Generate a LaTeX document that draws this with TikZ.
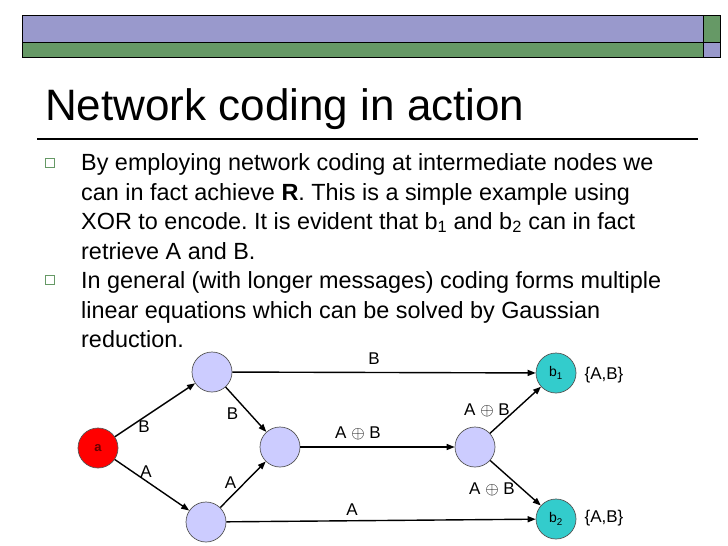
\documentclass[tikz,border=0pt]{standalone}
\usepackage{fontspec}
\setmainfont{Liberation Sans}
\usetikzlibrary{arrows.meta}
\frenchspacing
\definecolor{barpurple}{HTML}{9999CC}
\definecolor{bargreen}{HTML}{669966}
\definecolor{lav}{HTML}{CCCCFF}
\definecolor{tealnode}{HTML}{33CCCC}
\definecolor{nodeedge}{HTML}{555555}
\tikzset{
  bar/.style={draw=black,line width=0.9pt},
  bodyline/.style={anchor=base west,inner sep=0pt,font=\fontsize{23.4}{28}\selectfont},
  bulletsq/.style={draw=bargreen,line width=0.8pt,minimum size=9pt,inner sep=0pt},
  relay/.style={circle,draw=nodeedge,fill=lav,minimum size=40pt,inner sep=0pt,line width=0.7pt},
  sink/.style={circle,draw=nodeedge,fill=tealnode,minimum size=40pt,inner sep=0pt,line width=0.7pt,font=\fontsize{14}{16}\selectfont},
  source/.style={circle,draw=nodeedge,fill=red,minimum size=40pt,inner sep=0pt,line width=0.7pt,font=\bfseries\fontsize{13}{15}\selectfont,text=red!40!black},
  link/.style={line width=1.4pt,-{Triangle[length=8pt,width=6pt]}},
  elabel/.style={inner sep=0pt,font=\fontsize{17}{20}\selectfont},
}
\begin{document}
\begin{tikzpicture}[x=1pt,y=-1pt]
\useasboundingbox (0,0) rectangle (728,546);
% top bars
\draw[bar,fill=barpurple] (22,15) rectangle (703,42);
\draw[bar,fill=bargreen] (703,15) rectangle (720,42);
\draw[bar,fill=bargreen] (22,42) rectangle (703,57);
\draw[bar,fill=barpurple] (703,42) rectangle (720,57);
% title
\node[anchor=base west,inner sep=0pt,font=\fontsize{44}{48}\selectfont] (title) at (45,120) {Network coding in action};
\coordinate (ruleL) at (37,139);
\coordinate (ruleR) at (698,139);
\draw[line width=1.2pt] (ruleL) -- (ruleR);
% bullets
\node[bulletsq] (sq1) at (49.5,162.8) {};
\node[bulletsq] (sq2) at (49.5,280.3) {};
\node[bodyline] (l1) at (81,170.7) {By employing network coding at intermediate nodes we};
\node[bodyline] (l2) at (81,200) {can in fact achieve \textbf{R}. This is a simple example using};
\node[bodyline] (l3) at (81,229) {XOR to encode. It is evident that b\textsubscript{1} and b\textsubscript{2} can in fact};
\node[bodyline] (l4) at (81,259) {retrieve A and B.};
\node[bodyline] (l5) at (81,288) {In general (with longer messages) coding forms multiple};
\node[bodyline] (l6) at (81,318) {linear equations which can be solved by Gaussian};
\node[bodyline] (l7) at (81,347) {reduction.};
% graph nodes
\node[source] (a) at (98,448) {a};
\node[relay] (n1) at (212,372) {};
\node[relay] (n2) at (280,447) {};
\node[relay] (n3) at (206,522) {};
\node[relay] (n4) at (475,447) {};
\node[sink] (b1) at (556,373) {b\textsubscript{1}};
\node[sink] (b2) at (556,519) {b\textsubscript{2}};
% edges
\draw[link] (a) -- (n1);
\draw[link] (a) -- (n3);
\draw[link] (n1) -- (n2);
\draw[link] (n3) -- (n2);
\draw[link] (n1) -- (b1);
\draw[link] (n2) -- (n4);
\draw[link] (n3) -- (b2);
\draw[link] (n4) -- (b1);
\draw[link] (n4) -- (b2);
% edge labels
\node[elabel] (lb1) at (144,427) {B};
\node[elabel] (la1) at (146,472) {A};
\node[elabel] (lb2) at (232.5,414) {B};
\node[elabel] (la2) at (230.5,483) {A};
\node[elabel] (lbt) at (374,359) {B};
\node[elabel] (lx1) at (358,433) {A $\oplus$ B};
\node[elabel] (lab) at (352,510) {A};
\node[elabel] (lx2) at (487,410) {A $\oplus$ B};
\node[elabel] (lx3) at (492,489) {A $\oplus$ B};
\node[elabel] (s1) at (604,375) {\{A,B\}};
\node[elabel] (s2) at (604,518) {\{A,B\}};
\end{tikzpicture}
\end{document}
